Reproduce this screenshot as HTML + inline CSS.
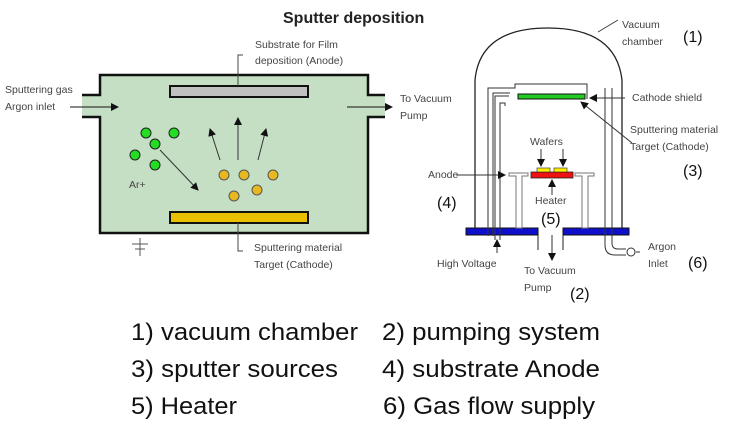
<!DOCTYPE html>
<html><head><meta charset="utf-8"><style>
html,body{margin:0;padding:0;background:#fff;}
svg{display:block;}
.s{font-family:"Liberation Sans",sans-serif;font-size:10.5px;fill:#444;}
.b{font-family:"Liberation Sans",sans-serif;font-size:24px;fill:#111;}
.n{font-family:"Liberation Sans",sans-serif;font-size:16px;fill:#111;}
</style></head><body>
<svg width="743" height="435" viewBox="0 0 743 435" xmlns="http://www.w3.org/2000/svg">
<defs><marker id="a" markerWidth="8" markerHeight="8" refX="7" refY="4" orient="auto" markerUnits="userSpaceOnUse"><path d="M0,0 L8,4 L0,8 z" fill="#111"/></marker></defs>
<text x="283" y="23" font-family="Liberation Sans,sans-serif" font-size="16" font-weight="bold" fill="#222">Sputter deposition</text>
<path d="M100,75 H368 V95 H385 V117 H368 V233 H100 V117 H82 V95 H100 Z" fill="#c5dfc4" stroke="none"/>
<path d="M82,95 H100 V75 H368 V95 H385 M385,117 H368 V233 H100 V117 H82" fill="none" stroke="#111" stroke-width="2.5"/>
<rect x="170" y="86" width="138" height="11" fill="#c0c0c0" stroke="#111" stroke-width="2"/>
<rect x="170" y="212" width="138" height="11" fill="#e8c000" stroke="#111" stroke-width="2"/>
<path d="M238,86 V55 H243" fill="none" stroke="#444" stroke-width="1"/>
<path d="M238,223 V251 H243" fill="none" stroke="#444" stroke-width="1"/>
<text class="s" x="255" y="48">Substrate for Film</text>
<text class="s" x="255" y="64">deposition (Anode)</text>
<text class="s" x="254" y="251">Sputtering material</text>
<text class="s" x="254" y="268">Target (Cathode)</text>
<text class="s" x="5" y="93">Sputtering gas</text>
<text class="s" x="5" y="110">Argon inlet</text>
<line x1="70" y1="107" x2="118" y2="107" stroke="#111" marker-end="url(#a)"/>
<line x1="347" y1="107" x2="392" y2="107" stroke="#111" marker-end="url(#a)"/>
<text class="s" x="400" y="102">To Vacuum</text>
<text class="s" x="400" y="119">Pump</text>
<g fill="#22dd22" stroke="#222" stroke-width="1">
<circle cx="146" cy="133" r="5"/><circle cx="174" cy="133" r="5"/><circle cx="155" cy="144" r="5"/><circle cx="135" cy="155" r="5"/><circle cx="155" cy="165" r="5"/></g>
<text class="s" x="129" y="188">Ar+</text>
<line x1="160" y1="150" x2="198" y2="190" stroke="#333" marker-end="url(#a)"/>
<g fill="#e8b820" stroke="#555" stroke-width="1">
<circle cx="224" cy="175" r="5"/><circle cx="244" cy="175" r="5"/><circle cx="273" cy="175" r="5"/><circle cx="234" cy="196" r="5"/><circle cx="257" cy="190" r="5"/></g>
<line x1="220" y1="160" x2="210" y2="129" stroke="#333" marker-end="url(#a)"/>
<line x1="238" y1="160" x2="238" y2="118" stroke="#333" marker-end="url(#a)"/>
<line x1="258" y1="160" x2="266" y2="129" stroke="#333" marker-end="url(#a)"/>
<path d="M140,238 V256 M132,244 H148 M135,249 H145" stroke="#555" fill="none"/>
<path d="M475,228 V80 Q480,28 548,28 Q616,28 622,80 V228" fill="none" stroke="#222" stroke-width="1.3"/>
<line x1="598" y1="32" x2="618" y2="20" stroke="#333" stroke-width="0.8"/>
<text class="s" x="622" y="28">Vacuum</text>
<text class="s" x="622" y="45">chamber</text>
<text class="n" x="683" y="42">(1)</text>
<rect x="466" y="228" width="72" height="7" fill="#1010cc" stroke="#111"/>
<rect x="563" y="228" width="66" height="7" fill="#1010cc" stroke="#111"/>
<path d="M538,235 V250 M563,235 V250" stroke="#222"/>
<path d="M488,236 V88 H515 V84 H587 V99" fill="none" stroke="#333"/>
<path d="M493,236 V93 H510" fill="none" stroke="#333"/>
<path d="M495,240 V96 H509" fill="none" stroke="#333"/>
<path d="M500,240 V103 H505 V106" fill="none" stroke="#333"/>
<rect x="518" y="94" width="67" height="5" fill="#22cc22" stroke="#111"/>
<path d="M605,88 V245 Q605,255 615,255 H626 M612,88 V243 Q612,249 618,249 H626" fill="none" stroke="#333"/>
<circle cx="631" cy="252" r="4" fill="#fff" stroke="#333"/>
<line x1="636" y1="252" x2="640" y2="252" stroke="#333"/>
<line x1="625" y1="98" x2="590" y2="98" stroke="#333" marker-end="url(#a)"/>
<text class="s" x="632" y="101">Cathode shield</text>
<line x1="632" y1="143" x2="581" y2="102" stroke="#333" marker-end="url(#a)"/>
<text class="s" x="630" y="133">Sputtering material</text>
<text class="s" x="630" y="150">Target (Cathode)</text>
<text class="n" x="683" y="176">(3)</text>
<rect x="531" y="172" width="42" height="6" fill="#ee1111" stroke="#222" stroke-width="0.8"/>
<rect x="537" y="168" width="13" height="4" fill="#ffee00" stroke="#222" stroke-width="0.6"/>
<rect x="554" y="168" width="13" height="4" fill="#ffee00" stroke="#222" stroke-width="0.6"/>
<path d="M509,173 H528 V176 H522 V228 H516 V176 H509 Z" fill="#fff" stroke="#777"/>
<path d="M575,173 H594 V176 H588 V228 H582 V176 H575 Z" fill="#fff" stroke="#777"/>
<text class="s" x="530" y="145">Wafers</text>
<line x1="541" y1="149" x2="541" y2="166" stroke="#333" marker-end="url(#a)"/>
<line x1="563" y1="149" x2="563" y2="166" stroke="#333" marker-end="url(#a)"/>
<line x1="552" y1="195" x2="552" y2="180" stroke="#333" marker-end="url(#a)"/>
<text class="s" x="535" y="204">Heater</text>
<text class="n" x="541" y="224">(5)</text>
<text class="s" x="428" y="178">Anode</text>
<line x1="456" y1="175" x2="505" y2="175" stroke="#333" marker-end="url(#a)"/>
<text class="n" x="437" y="208">(4)</text>
<line x1="497" y1="253" x2="497" y2="240" stroke="#333" marker-end="url(#a)"/>
<text class="s" x="437" y="267">High Voltage</text>
<line x1="552" y1="235" x2="552" y2="260" stroke="#333" marker-end="url(#a)"/>
<text class="s" x="524" y="274">To Vacuum</text>
<text class="s" x="524" y="291">Pump</text>
<text class="n" x="570" y="299">(2)</text>
<text class="s" x="648" y="250">Argon</text>
<text class="s" x="648" y="267">Inlet</text>
<text class="n" x="688" y="268">(6)</text>
<text class="b" x="131" y="340" textLength="227" lengthAdjust="spacingAndGlyphs">1) vacuum chamber</text>
<text class="b" x="382" y="340" textLength="218" lengthAdjust="spacingAndGlyphs">2) pumping system</text>
<text class="b" x="131" y="377" textLength="207" lengthAdjust="spacingAndGlyphs">3) sputter sources</text>
<text class="b" x="382" y="377" textLength="218" lengthAdjust="spacingAndGlyphs">4) substrate Anode</text>
<text class="b" x="131" y="414" textLength="106" lengthAdjust="spacingAndGlyphs">5) Heater</text>
<text class="b" x="383" y="414" textLength="212" lengthAdjust="spacingAndGlyphs">6) Gas flow supply</text>
</svg>
</body></html>
